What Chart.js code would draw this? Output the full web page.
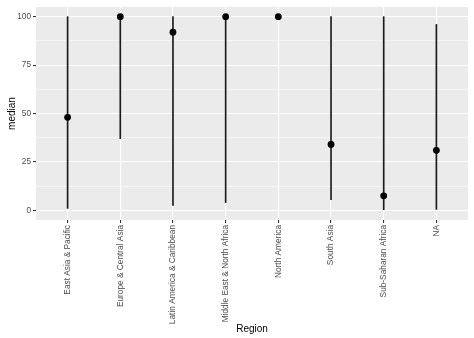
<!DOCTYPE html>
<html>
<head>
<meta charset="utf-8">
<script src="https://cdn.jsdelivr.net/npm/chart.js@4"></script>
<style>
  html, body { margin: 0; padding: 0; background: #fff; }
  #wrap { width: 474px; height: 338px; }
</style>
</head>
<body>
<div id="wrap"><canvas id="regionChart" width="474" height="338"></canvas></div>
<script>
const regions = ['East Asia & Pacific', 'Europe & Central Asia', 'Latin America & Caribbean',
  'Middle East & North Africa', 'North America', 'South Asia', 'Sub-Saharan Africa', 'NA'];
const medians = [48, 100, 92, 100, 100, 34, 7.5, 31];
const lows = [1, 37, 2.5, 4, 100, 5.5, 0, 0.5];
const highs = [100, 100, 100, 100, 100, 100, 100, 96];
const yTicks = [0, 12.5, 25, 37.5, 50, 62.5, 75, 87.5, 100];

const panelBg = {
  id: 'panelBg',
  beforeDraw(chart) {
    const a = chart.chartArea;
    const c = chart.ctx;
    c.save();
    c.fillStyle = '#EBEBEB';
    c.fillRect(a.left, a.top, a.right - a.left, a.bottom - a.top);
    c.restore();
  }
};

const isMajor = v => v % 25 === 0;

const ctx = document.getElementById('regionChart').getContext('2d');
new Chart(ctx, {
  type: 'bar',
  data: {
    datasets: [
      {
        type: 'line',
        data: medians.map((m, i) => ({ x: i, y: m })),
        showLine: false,
        pointRadius: 3.4,
        pointBackgroundColor: '#000',
        pointBorderColor: '#000',
        pointBorderWidth: 0,
        order: 0
      },
      {
        type: 'bar',
        data: lows.map((l, i) => ({ x: i, y: [l, highs[i]] })),
        backgroundColor: '#1a1a1a',
        borderWidth: 0,
        barThickness: 1,
        order: 1
      }
    ]
  },
  options: {
    responsive: false,
    animation: false,
    layout: { padding: { top: 5, right: 6, left: 0, bottom: 0 } },
    plugins: { legend: { display: false }, tooltip: { enabled: false } },
    scales: {
      x: {
        type: 'linear',
        min: -0.6,
        max: 7.6,
        offset: false,
        afterBuildTicks: s => { s.ticks = regions.map((r, i) => ({ value: i })); },
        afterFit: s => { s.height = 118; },
        ticks: {
          autoSkip: false,
          minRotation: 90,
          maxRotation: 90,
          padding: 2,
          color: '#4D4D4D',
          font: { family: 'Liberation Sans', size: 8.3 },
          callback: v => regions[v]
        },
        grid: { offset: false, color: '#FFFFFF', lineWidth: 1.1, tickLength: 3, tickColor: '#333333' },
        border: { display: false },
        title: {
          display: true,
          text: 'Region',
          color: '#000',
          font: { family: 'Liberation Sans', size: 10 },
          padding: { top: 0, bottom: 3 }
        }
      },
      y: {
        min: -5,
        max: 105,
        afterBuildTicks: s => { s.ticks = yTicks.map(v => ({ value: v })); },
        afterFit: s => { s.width = 36; },
        ticks: {
          autoSkip: false,
          padding: 2,
          color: '#4D4D4D',
          font: { family: 'Liberation Sans', size: 8.3 },
          callback: v => isMajor(v) ? String(v) : ''
        },
        grid: {
          offset: false,
          color: '#FFFFFF',
          lineWidth: c => isMajor(c.tick.value) ? 1.1 : 0.5,
          tickLength: 3,
          tickColor: c => isMajor(c.tick.value) ? '#333333' : 'rgba(0,0,0,0)'
        },
        border: { display: false },
        title: {
          display: true,
          text: 'median',
          color: '#000',
          font: { family: 'Liberation Sans', size: 10 },
          padding: { top: 6, bottom: 0 }
        }
      }
    }
  },
  plugins: [panelBg]
});
</script>
</body>
</html>
